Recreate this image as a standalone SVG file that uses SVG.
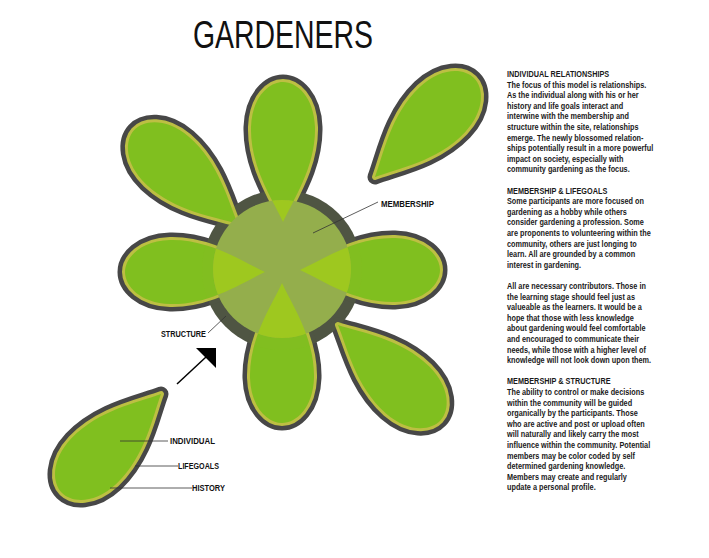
<svg xmlns="http://www.w3.org/2000/svg" xmlns:xlink="http://www.w3.org/1999/xlink" width="709" height="558" viewBox="0 0 709 558">
<style>
.t{font-family:"Liberation Sans",Arial,sans-serif;font-size:9.6px;font-weight:bold;fill:#1a1a1a}
.lb{font-family:"Liberation Sans",Arial,sans-serif;font-size:9.5px;font-weight:bold;fill:#111}
.ln{stroke:#333;stroke-width:0.8;fill:none}
.o1{fill:#474747;stroke:#474747;stroke-width:15;stroke-linejoin:round}
.o2{fill:#bdbf43;stroke:#bdbf43;stroke-width:6;stroke-linejoin:round}
.o3{fill:#80bf1f}
.hi{fill:#a2d010;opacity:0.75}
</style>
<defs>
<path id="p" d="M0,0 C-10,-22 -33,-55 -32,-95 C-31,-125 -14,-140 0,-140 C14,-140 31,-125 32,-95 C33,-55 10,-22 0,0Z"/>
<g id="petal"><use xlink:href="#p" class="o1"/><use xlink:href="#p" class="o2"/><use xlink:href="#p" class="o3"/></g>
<clipPath id="dc"><circle cx="282" cy="269" r="69"/></clipPath>
</defs>
<rect width="709" height="558" fill="#fff"/>
<text x="193" y="48" font-family="Liberation Sans,Arial,sans-serif" font-size="38" textLength="180" lengthAdjust="spacingAndGlyphs" fill="#111">GARDENERS</text>
<g id="center-ring"><circle cx="282" cy="270" r="80" fill="#474747"/></g>
<g id="petal-top"><use xlink:href="#petal" transform="translate(283,222)"/></g>
<g id="petal-left"><use xlink:href="#petal" transform="translate(265,272) rotate(-90)"/></g>
<g id="petal-right"><use xlink:href="#petal" transform="translate(300,270) rotate(90)"/></g>
<g id="petal-bottom"><use xlink:href="#petal" transform="translate(282,283) rotate(180)"/></g>
<g id="petal-upperleft"><use xlink:href="#petal" transform="translate(238,224) rotate(-48)"/></g>
<g id="petal-lowerright"><use xlink:href="#petal" transform="translate(338,325) rotate(133)"/></g>
<g id="petal-detached-upperright"><use xlink:href="#petal" transform="translate(375,177) rotate(45)"/></g>
<g id="petal-detached-lowerleft"><use xlink:href="#petal" transform="translate(161,394) rotate(-135)"/></g>
<g id="membership-disc">
<circle cx="282" cy="270" r="80" fill="#8cbf2a" opacity="0.12"/>
<circle cx="282" cy="269" r="69" fill="#94ae4c"/>
<g clip-path="url(#dc)">
<use xlink:href="#p" class="hi" transform="translate(283,222)"/>
<use xlink:href="#p" class="hi" transform="translate(265,272) rotate(-90)"/>
<use xlink:href="#p" class="hi" transform="translate(300,270) rotate(90)"/>
<use xlink:href="#p" class="hi" transform="translate(282,283) rotate(180)"/>
</g>
</g>
<g id="connectors">
<line class="ln" x1="313" y1="233" x2="378" y2="202"/>
<line class="ln" x1="208" y1="333" x2="226" y2="316"/>
<line x1="177" y1="384" x2="206" y2="357" stroke="#000" stroke-width="1.5"/>
<polygon points="196,348 216,348 216,368" fill="#000"/>
<line class="ln" x1="120" y1="441" x2="168" y2="441"/>
<line class="ln" x1="135" y1="466" x2="178" y2="466"/>
<line class="ln" x1="110" y1="488" x2="192" y2="488"/>
</g>
<g id="labels">
<text class="lb" x="381" y="207" textLength="53" lengthAdjust="spacingAndGlyphs">MEMBERSHIP</text>
<text class="lb" x="161" y="337" textLength="45" lengthAdjust="spacingAndGlyphs">STRUCTURE</text>
<text class="lb" x="170" y="444" textLength="45" lengthAdjust="spacingAndGlyphs">INDIVIDUAL</text>
<text class="lb" x="178" y="469" textLength="41" lengthAdjust="spacingAndGlyphs">LIFEGOALS</text>
<text class="lb" x="192" y="491" textLength="33" lengthAdjust="spacingAndGlyphs">HISTORY</text>
</g>
<g id="body" transform="translate(507,0) scale(0.76,1)">
<text class="t" x="0" y="77">INDIVIDUAL RELATIONSHIPS</text>
<text class="t" x="0" y="87.6">The focus of this model is relationships.</text>
<text class="t" x="0" y="98.2">As the individual along with his or her</text>
<text class="t" x="0" y="108.8">history and life goals interact and</text>
<text class="t" x="0" y="119.4">interwine with the membership and</text>
<text class="t" x="0" y="130">structure within the site, relationships</text>
<text class="t" x="0" y="140.6">emerge. The newly blossomed relation-</text>
<text class="t" x="0" y="151.2">ships potentially result in a more powerful</text>
<text class="t" x="0" y="161.8">impact on society, especially with</text>
<text class="t" x="0" y="172.4">community gardening as the focus.</text>
<text class="t" x="0" y="193.6">MEMBERSHIP &amp; LIFEGOALS</text>
<text class="t" x="0" y="204.2">Some participants are more focused on</text>
<text class="t" x="0" y="214.8">gardening as a hobby while others</text>
<text class="t" x="0" y="225.4">consider gardening a profession. Some</text>
<text class="t" x="0" y="236">are proponents to volunteering within the</text>
<text class="t" x="0" y="246.6">community, others are just longing to</text>
<text class="t" x="0" y="257.2">learn. All are grounded by a common</text>
<text class="t" x="0" y="267.8">interest in gardening.</text>
<text class="t" x="0" y="289">All are necessary contributors. Those in</text>
<text class="t" x="0" y="299.6">the learning stage should feel just as</text>
<text class="t" x="0" y="310.2">valueable as the learners. It would be a</text>
<text class="t" x="0" y="320.8">hope that those with less knowledge</text>
<text class="t" x="0" y="331.4">about gardening would feel comfortable</text>
<text class="t" x="0" y="342">and encouraged to communicate their</text>
<text class="t" x="0" y="352.6">needs, while those with a higher level of</text>
<text class="t" x="0" y="363.2">knowledge will not look down upon them.</text>
<text class="t" x="0" y="384.4">MEMBERSHIP &amp; STRUCTURE</text>
<text class="t" x="0" y="395">The ability to control or make decisions</text>
<text class="t" x="0" y="405.6">within the community will be guided</text>
<text class="t" x="0" y="416.2">organically by the participants. Those</text>
<text class="t" x="0" y="426.8">who are active and post or upload often</text>
<text class="t" x="0" y="437.4">will naturally and likely carry the most</text>
<text class="t" x="0" y="448">influence within the community. Potential</text>
<text class="t" x="0" y="458.6">members may be color coded by self</text>
<text class="t" x="0" y="469.2">determined gardening knowledge.</text>
<text class="t" x="0" y="479.8">Members may create and regularly</text>
<text class="t" x="0" y="490.4">update a personal profile.</text>
</g>
</svg>
